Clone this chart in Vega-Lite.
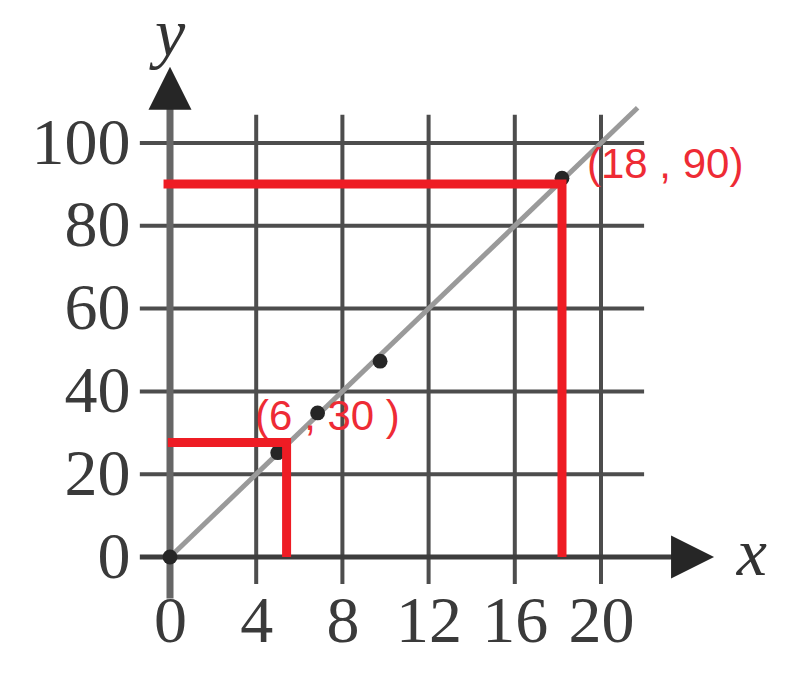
{
  "$schema": "https://vega.github.io/schema/vega-lite/v6.json",
  "width": 431,
  "height": 414,
  "autosize": {"type": "none"},
  "padding": {"left": 170, "top": 143, "right": 196, "bottom": 132},
  "background": "white",
  "config": {
    "view": {"stroke": null},
    "axis": {
      "grid": false, "domain": false, "ticks": false,
      "labelFont": "Liberation Serif", "labelFontSize": 66,
      "labelColor": "#3a3a3a", "labelFlush": false, "labelOverlap": false
    },
    "axisX": {"labelPadding": 32},
    "axisY": {"labelPadding": 40}
  },
  "datasets": {
    "vgrid": [{"x": 4}, {"x": 8}, {"x": 12}, {"x": 16}, {"x": 20}],
    "hgrid": [{"y": 20}, {"y": 40}, {"y": 60}, {"y": 80}, {"y": 100}],
    "diag": [{"x": 0, "y": 0}, {"x": 21.7, "y": 108.5}],
    "dots": [
      {"x": 0, "y": 0},
      {"x": 5, "y": 25.2},
      {"x": 6.85, "y": 34.8},
      {"x": 9.75, "y": 47.3},
      {"x": 18.19, "y": 91.5}
    ],
    "red": [
      {"g": "a", "o": 1, "x": -0.1, "y": 27.66},
      {"g": "a", "o": 2, "x": 5.41, "y": 27.66},
      {"g": "a", "o": 3, "x": 5.41, "y": 0},
      {"g": "b", "o": 1, "x": -0.3, "y": 90.1},
      {"g": "b", "o": 2, "x": 18.19, "y": 90.1},
      {"g": "b", "o": 3, "x": 18.19, "y": 0}
    ],
    "labels": [
      {"label": "(6 , 30 )", "x": 3.95, "y": 30.7},
      {"label": "(18 , 90)", "x": 19.35, "y": 91.5}
    ],
    "titles": [
      {"label": "y", "x": 0, "y": 121},
      {"label": "x", "x": 27.0, "y": -4.35}
    ],
    "arrows": [
      {"dir": "up", "x": 0, "y": 113.2},
      {"dir": "right", "x": 24.25, "y": 0}
    ]
  },
  "layer": [
    {
      "data": {"name": "vgrid"},
      "mark": {"type": "rule", "color": "#4d4d4d", "strokeWidth": 4},
      "encoding": {
        "x": {"field": "x", "type": "quantitative", "scale": {"domain": [0, 20], "nice": false, "zero": false}, "axis": {"values": [0, 4, 8, 12, 16, 20], "title": null}},
        "y": {"datum": -6.5, "type": "quantitative", "scale": {"domain": [0, 100], "nice": false, "zero": false}, "axis": {"values": [0, 20, 40, 60, 80, 100], "title": null}},
        "y2": {"datum": 106.8}
      }
    },
    {
      "data": {"name": "hgrid"},
      "mark": {"type": "rule", "color": "#4d4d4d", "strokeWidth": 4},
      "encoding": {
        "x": {"datum": -1.4, "type": "quantitative", "scale": {"domain": [0, 20], "nice": false, "zero": false}, "axis": {"values": [0, 4, 8, 12, 16, 20], "title": null}},
        "x2": {"datum": 22.0},
        "y": {"field": "y", "type": "quantitative", "scale": {"domain": [0, 100], "nice": false, "zero": false}, "axis": {"values": [0, 20, 40, 60, 80, 100], "title": null}}
      }
    },
    {
      "data": {"values": [{"axis": "x"}]},
      "mark": {"type": "rule", "color": "#3d3d3d", "strokeWidth": 5},
      "encoding": {
        "x": {"datum": -1.4, "type": "quantitative", "scale": {"domain": [0, 20], "nice": false, "zero": false}, "axis": {"values": [0, 4, 8, 12, 16, 20], "title": null}},
        "x2": {"datum": 23.5},
        "y": {"datum": 0, "type": "quantitative", "scale": {"domain": [0, 100], "nice": false, "zero": false}, "axis": {"values": [0, 20, 40, 60, 80, 100], "title": null}}
      }
    },
    {
      "data": {"values": [{"axis": "y"}]},
      "mark": {"type": "rule", "color": "#666666", "strokeWidth": 7},
      "encoding": {
        "x": {"datum": 0, "type": "quantitative", "scale": {"domain": [0, 20], "nice": false, "zero": false}, "axis": {"values": [0, 4, 8, 12, 16, 20], "title": null}},
        "y": {"datum": -10, "type": "quantitative", "scale": {"domain": [0, 100], "nice": false, "zero": false}, "axis": {"values": [0, 20, 40, 60, 80, 100], "title": null}},
        "y2": {"datum": 111}
      }
    },
    {
      "data": {"name": "diag"},
      "mark": {"type": "line", "color": "#9a9a9a", "strokeWidth": 5},
      "encoding": {
        "x": {"field": "x", "type": "quantitative", "scale": {"domain": [0, 20], "nice": false, "zero": false}, "axis": {"values": [0, 4, 8, 12, 16, 20], "title": null}},
        "y": {"field": "y", "type": "quantitative", "scale": {"domain": [0, 100], "nice": false, "zero": false}, "axis": {"values": [0, 20, 40, 60, 80, 100], "title": null}}
      }
    },
    {
      "data": {"name": "labels"},
      "mark": {"type": "text", "color": "#ee2b35", "font": "Liberation Sans", "fontSize": 42, "align": "left", "baseline": "alphabetic"},
      "encoding": {
        "x": {"field": "x", "type": "quantitative", "scale": {"domain": [0, 20], "nice": false, "zero": false}, "axis": {"values": [0, 4, 8, 12, 16, 20], "title": null}},
        "y": {"field": "y", "type": "quantitative", "scale": {"domain": [0, 100], "nice": false, "zero": false}, "axis": {"values": [0, 20, 40, 60, 80, 100], "title": null}},
        "text": {"field": "label"}
      }
    },
    {
      "data": {"name": "dots"},
      "mark": {"type": "circle", "color": "#262626", "opacity": 1, "size": 220},
      "encoding": {
        "x": {"field": "x", "type": "quantitative", "scale": {"domain": [0, 20], "nice": false, "zero": false}, "axis": {"values": [0, 4, 8, 12, 16, 20], "title": null}},
        "y": {"field": "y", "type": "quantitative", "scale": {"domain": [0, 100], "nice": false, "zero": false}, "axis": {"values": [0, 20, 40, 60, 80, 100], "title": null}}
      }
    },
    {
      "data": {"name": "red"},
      "mark": {"type": "line", "color": "#ee1c24", "strokeWidth": 9, "strokeJoin": "miter", "strokeCap": "butt"},
      "encoding": {
        "x": {"field": "x", "type": "quantitative", "scale": {"domain": [0, 20], "nice": false, "zero": false}, "axis": {"values": [0, 4, 8, 12, 16, 20], "title": null}},
        "y": {"field": "y", "type": "quantitative", "scale": {"domain": [0, 100], "nice": false, "zero": false}, "axis": {"values": [0, 20, 40, 60, 80, 100], "title": null}},
        "detail": {"field": "g"},
        "order": {"field": "o"}
      }
    },
    {
      "data": {"name": "arrows"},
      "mark": {"type": "point", "filled": true, "color": "#262626", "opacity": 1, "size": 1849, "strokeWidth": 0},
      "encoding": {
        "x": {"field": "x", "type": "quantitative", "scale": {"domain": [0, 20], "nice": false, "zero": false}, "axis": {"values": [0, 4, 8, 12, 16, 20], "title": null}},
        "y": {"field": "y", "type": "quantitative", "scale": {"domain": [0, 100], "nice": false, "zero": false}, "axis": {"values": [0, 20, 40, 60, 80, 100], "title": null}},
        "shape": {
          "field": "dir", "type": "nominal",
          "scale": {"domain": ["up", "right"], "range": ["M-1,1L0,-1L1,1Z", "M-1,-1L1,0L-1,1Z"]},
          "legend": null
        }
      }
    },
    {
      "data": {"name": "titles"},
      "mark": {"type": "text", "color": "#333333", "font": "Liberation Serif", "fontStyle": "italic", "fontSize": 68, "align": "center", "baseline": "alphabetic"},
      "encoding": {
        "x": {"field": "x", "type": "quantitative", "scale": {"domain": [0, 20], "nice": false, "zero": false}, "axis": {"values": [0, 4, 8, 12, 16, 20], "title": null}},
        "y": {"field": "y", "type": "quantitative", "scale": {"domain": [0, 100], "nice": false, "zero": false}, "axis": {"values": [0, 20, 40, 60, 80, 100], "title": null}},
        "text": {"field": "label"}
      }
    }
  ]
}
